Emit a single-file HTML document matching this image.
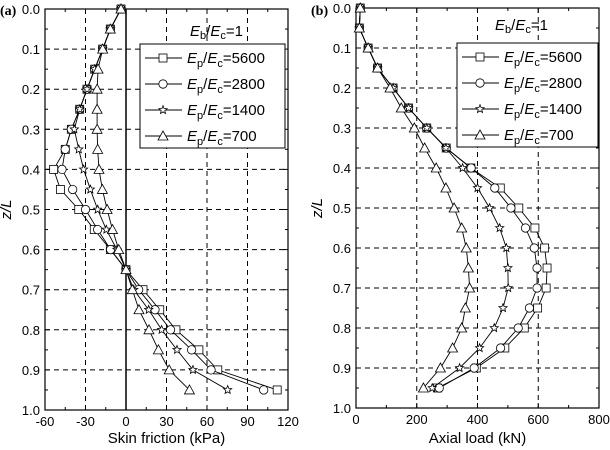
<!DOCTYPE html>
<html><head><meta charset="utf-8"><style>
body{margin:0;background:#fff}
svg{display:block;font-family:"Liberation Sans",Arial,sans-serif}
</style></head><body>
<svg id="s" width="610" height="450" viewBox="0 0 610 450"></svg>
<script>
const depths=[0,0.05,0.1,0.15,0.2,0.25,0.3,0.35,0.4,0.45,0.5,0.55,0.6,0.65,0.7,0.75,0.8,0.85,0.9,0.95];
const seriesNames=["5600","2800","1400","700"];
const sfSquare=[-3.7,-11.6,-17.3,-23.2,-28.9,-34.3,-40.5,-45,-53.6,-48.6,-35,-23.5,-11.6,0,12.6,25,37,54,68,112];
const sfCircle=[-3.7,-11.6,-17.3,-23.2,-28.9,-34.3,-40.5,-45,-47.4,-39.5,-30,-21,-11.4,0,9.4,21.5,33,48.6,63,102];
const sfStar=[-3.7,-11.6,-17.3,-23.2,-28.9,-34.3,-38.3,-35,-31.4,-26.4,-21,-14.6,-6.7,0,5.7,16.8,26.4,37.8,49.6,75.3];
const sfTri=[-3.7,-11.6,-17.3,-20.7,-21.4,-21.4,-21.4,-21,-20,-17.5,-14,-10,-5.4,0,4.7,9.6,17,24,32,47];
const alSquare=[14,11,40,71,122,173,233,297,378,475,536,589,621,629,626,598,554,490,396,268];
const alCircle=[14,11,40,71,122,173,233,297,379,457,510,558,587,596,596,571,534,476,389,274];
const alStar=[14,11,40,71,122,173,233,296,351,400,440,473,495,500,501,484,455,407,341,251];
const alTri=[14,11,40,71,112,149,192,226,264,296,323,348,363,370,374,360,348,318,278,222];
const sfTicks=[-60,-30,0,30,60,90,120];
const alTicks=[0,200,400,600,800];
const zTicks=[0,0.1,0.2,0.3,0.4,0.5,0.6,0.7,0.8,0.9,1.0];

const svg=document.getElementById('s');
const NS="http://www.w3.org/2000/svg";
function el(t,a,p){const e=document.createElementNS(NS,t);for(const k in a)e.setAttribute(k,a[k]);(p||svg).appendChild(e);return e;}

function marker(g,type,x,y){
  let m;
  if(type==="square"){m=el('rect',{x:x-4,y:y-4,width:8,height:8,fill:'#fff',stroke:'#000','stroke-width':0.8},g);}
  else if(type==="circle"){m=el('circle',{cx:x,cy:y,r:4.2,fill:'#fff',stroke:'#000','stroke-width':0.8},g);}
  else if(type==="tri"){m=el('polygon',{points:`${x},${y-5} ${x-5},${y+4} ${x+5},${y+4}`,fill:'#fff',stroke:'#000','stroke-width':0.8},g);}
  else {let pts=[];for(let i=0;i<10;i++){const r=i%2?1.9:4.3;const a=-Math.PI/2+i*Math.PI/5;pts.push((x+r*Math.cos(a)).toFixed(1)+','+(y+r*Math.sin(a)).toFixed(1));}
    m=el('polygon',{points:pts.join(' '),fill:'#fff',stroke:'#000','stroke-width':0.8},g);}
  
  
}

function panel(o){
  const g=el('g',{});
  
  
  const X=v=>o.x0+(v-o.xmin)/(o.xmax-o.xmin)*(o.x1-o.x0);
  const Y=v=>o.y0+v*(o.y1-o.y0);
  o.grid.forEach(v=>{const l=el('line',{x1:X(v),x2:X(v),y1:o.y0,y2:o.y1,stroke:'#000','stroke-width':1,'stroke-dasharray':'5,4'},g);
    });
  zTicks.slice(1,10).forEach(v=>{const l=el('line',{x1:o.x0,x2:o.x1,y1:Y(v),y2:Y(v),stroke:'#000','stroke-width':1,'stroke-dasharray':'5,4'},g);
    });
  if(o.zeroLine){const l=el('line',{x1:X(0),x2:X(0),y1:o.y0,y2:o.y1,stroke:'#000','stroke-width':1.5},g);
    }
  const f=el('rect',{x:o.x0,y:o.y0,width:o.x1-o.x0,height:o.y1-o.y0,fill:'none',stroke:'#000','stroke-width':1.2},g);
  
  for(let i=0;i<o.xticks.length;i++){
    const v=o.xticks[i];
    el('line',{x1:X(v),x2:X(v),y1:o.y1,y2:o.y1-5,stroke:'#000'},g);
    el('line',{x1:X(v),x2:X(v),y1:o.y0,y2:o.y0+5,stroke:'#000'},g);
    if(i<o.xticks.length-1){const m=(v+o.xticks[i+1])/2;
      el('line',{x1:X(m),x2:X(m),y1:o.y1,y2:o.y1-3,stroke:'#000'},g);
      el('line',{x1:X(m),x2:X(m),y1:o.y0,y2:o.y0+3,stroke:'#000'},g);}
    const t=el('text',{x:X(v),y:o.y1+16,'font-size':13,'text-anchor':'middle'},g);t.textContent=v;
    
  }
  zTicks.forEach((v,i)=>{
    el('line',{x1:o.x0,x2:o.x0+5,y1:Y(v),y2:Y(v),stroke:'#000'},g);
    el('line',{x1:o.x1,x2:o.x1-5,y1:Y(v),y2:Y(v),stroke:'#000'},g);
    if(i<10){const m=v+0.05;el('line',{x1:o.x0,x2:o.x0+3,y1:Y(m),y2:Y(m),stroke:'#000'},g);el('line',{x1:o.x1,x2:o.x1-3,y1:Y(m),y2:Y(m),stroke:'#000'},g);}
    const t=el('text',{x:o.x0-5,y:Y(v)+5,'font-size':13,'text-anchor':'end'},g);t.textContent=v.toFixed(1);
    
  });
  const types=["square","circle","star","tri"];
  o.series.forEach((arr,si)=>{
    const sg=el('g',{},g);
    
    
    el('polyline',{points:arr.map((v,i)=>X(v)+','+Y(depths[i])).join(' '),fill:'none',stroke:'#000','stroke-width':0.9},sg);
    arr.forEach((v,i)=>marker(sg,types[si],X(v),Y(depths[i])));
  });
  const xl=el('text',{x:(o.x0+o.x1)/2,y:443,'font-size':15,'text-anchor':'middle'},g);xl.textContent=o.xlabel;
  
  const yl=el('text',{x:0,y:0,'font-size':15,'font-style':'italic','text-anchor':'middle',transform:`translate(${o.x0-34},${Y(0.5)}) rotate(-90)`},g);yl.textContent='z/L';
  
  const pl=el('text',{x:o.x0-45,y:15,'font-size':14,'font-weight':'bold','font-family':'Liberation Serif,serif'},g);pl.textContent=o.tag;
  
  const lt=el('text',{x:o.tx,y:o.ty,'font-size':15},g);
  lt.innerHTML='<tspan font-style="italic">E</tspan><tspan font-size="11" dy="3">b</tspan><tspan dy="-3">/</tspan><tspan font-style="italic">E</tspan><tspan font-size="11" dy="3">c</tspan><tspan dy="-3">=1</tspan>';
  
  const lb=el('rect',{x:o.lx,y:o.ly,width:o.lw,height:104,fill:'#fff',stroke:'#000','stroke-width':1},g);
  
  seriesNames.forEach((n,i)=>{
    const yy=o.ly+14+i*26;
    const eg=el('g',{},g);
    
    el('line',{x1:o.lx+5,x2:o.lx+42,y1:yy,y2:yy,stroke:'#000'},eg);
    marker(eg,types[i],o.lx+23,yy);
    const t=el('text',{x:o.lx+47,y:yy+5,'font-size':15},eg);
    t.innerHTML='<tspan font-style="italic">E</tspan><tspan font-size="11" dy="4">p</tspan><tspan dy="-4">/</tspan><tspan font-style="italic">E</tspan><tspan font-size="11" dy="4">c</tspan><tspan dy="-4">='+n+'</tspan>';
  });
}
panel({name:'skin-friction-panel',tag:'(a)',x0:45,x1:288,y0:9,y1:410,xmin:-60,xmax:120,xticks:sfTicks,grid:[-30,30,60,90],zeroLine:true,
  series:[sfSquare,sfCircle,sfStar,sfTri],xlabel:'Skin friction (kPa)',lx:140,ly:44,lw:145,tx:190,ty:36});
panel({name:'axial-load-panel',tag:'(b)',x0:356,x1:599,y0:8,y1:408,xmin:0,xmax:800,xticks:alTicks,grid:[200,400,600],zeroLine:false,
  series:[alSquare,alCircle,alStar,alTri],xlabel:'Axial load (kN)',lx:457,ly:43,lw:141,tx:495,ty:30});
</script>
</body></html>
